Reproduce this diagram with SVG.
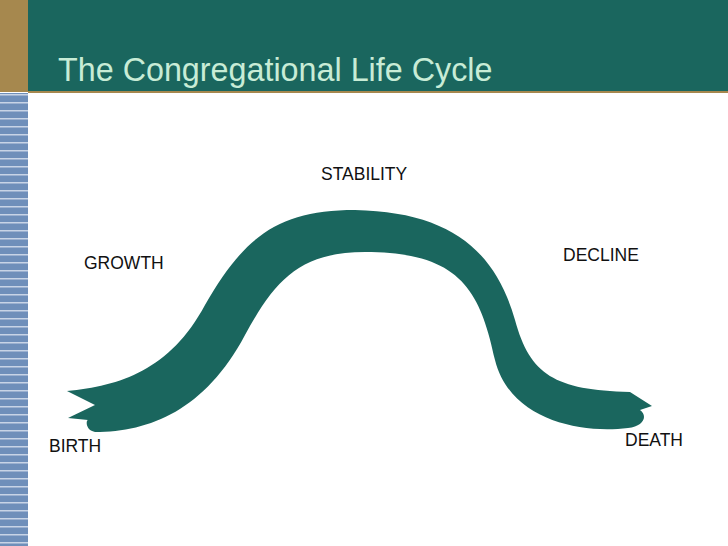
<svg xmlns="http://www.w3.org/2000/svg" width="728" height="546" viewBox="0 0 728 546">
<defs>
<pattern id="st" width="28" height="8" patternUnits="userSpaceOnUse"><rect width="28" height="8" fill="#6f8fba"/><rect y="6" width="28" height="1.5" fill="#c8d4e6"/></pattern>
</defs>
<style>.l{font-family:"Liberation Sans",Arial,sans-serif;font-size:17.5px;fill:#111}</style>
<rect width="728" height="546" fill="#fff"/>
<rect x="0" y="0" width="28" height="92" fill="#a6884e"/>
<rect x="0" y="93" width="28" height="453" fill="url(#st)"/>
<rect x="28" y="0" width="700" height="91" fill="#1a665e"/>
<rect x="28" y="91" width="700" height="2" fill="#a6884e"/>
<text x="58" y="81" font-family="Liberation Sans,Arial,sans-serif" font-size="32.3" fill="#c8ecd6">The Congregational Life Cycle</text>
<g id="band"><path d="M67,391 C120,386 170,370 205,305 C245,235 280,210 355,210 C450,212 495,250 515,320 C530,375 555,390 630,392 L652,406 L640,410 C648,416 644,426 628,428 C580,434 510,420 495,360 C480,290 460,252 365,252 C300,252 275,280 245,335 C205,410 150,432 95,432 C85,430 86,420 88,420 L68,418 L95,405 Z" fill="#1a665e"/></g>
<g id="labels">
<text class="l" x="321" y="180">STABILITY</text>
<text class="l" x="84" y="269">GROWTH</text>
<text class="l" x="563" y="261">DECLINE</text>
<text class="l" x="49" y="452">BIRTH</text>
<text class="l" x="625" y="446">DEATH</text>
</g>
</svg>
